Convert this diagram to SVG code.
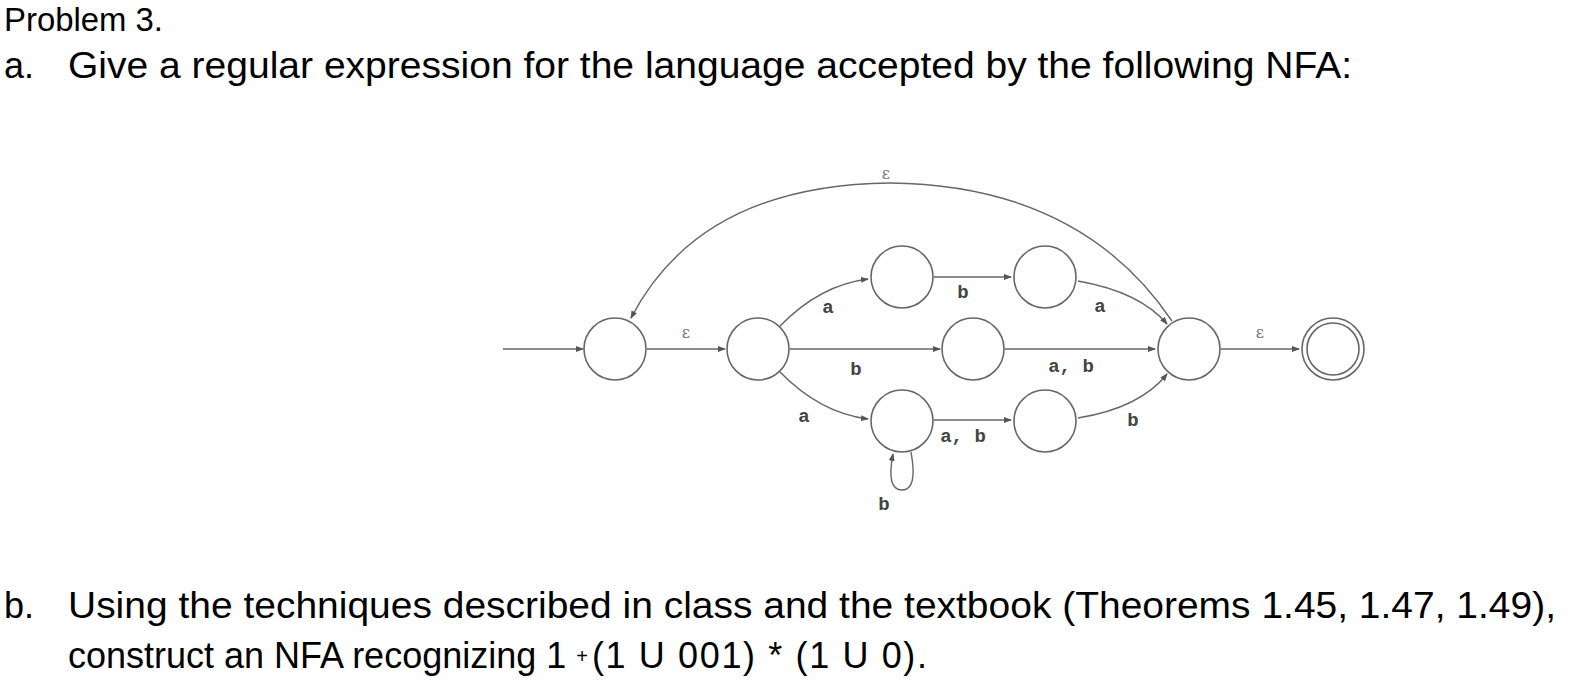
<svg xmlns="http://www.w3.org/2000/svg" width="1582" height="690" viewBox="0 0 1582 690">
<defs>
<marker id="ah" markerWidth="8" markerHeight="6" refX="7" refY="3" orient="auto" markerUnits="userSpaceOnUse"><path d="M0,0 L8,3 L0,6 Z" fill="#555"/></marker>
<style>
.t{font-family:"Liberation Sans",Arial,sans-serif;fill:#000}
.n{fill:#fff;stroke:#666;stroke-width:1.6}
.e{fill:none;stroke:#666;stroke-width:1.4;marker-end:url(#ah)}
.l{font-family:"Liberation Mono","Courier New",monospace;font-size:19px;font-weight:bold;fill:#444;text-anchor:middle}
.eps{font-family:"DejaVu Serif",serif;font-size:16px;fill:#777;text-anchor:middle}
</style>
</defs>
<rect width="1582" height="690" fill="#fff"/>
<text class="t" x="4" y="31" font-size="34" textLength="159" lengthAdjust="spacingAndGlyphs">Problem 3.</text>
<text class="t" x="4" y="78" font-size="36">a.</text>
<text class="t" x="68" y="78" font-size="36" textLength="1284" lengthAdjust="spacingAndGlyphs">Give a regular expression for the language accepted by the following NFA:</text>
<text class="t" x="4" y="618" font-size="36">b.</text>
<text class="t" x="68" y="618" font-size="36" textLength="1488" lengthAdjust="spacingAndGlyphs">Using the techniques described in class and the textbook (Theorems 1.45, 1.47, 1.49),</text>
<text class="t" x="68" y="668" font-size="36">construct an NFA recognizing 1 <tspan font-size="20" dy="-5">+</tspan><tspan dy="5" dx="4" textLength="335" lengthAdjust="spacing">(1 U 001) * (1 U 0).</tspan></text>
<g id="edges">
<path class="e" d="M503,349 L583,349"/>
<path class="e" d="M647,349 L725,349"/>
<path class="e" d="M780,326 Q820,285 868,279"/>
<path class="e" d="M790,349 L940,349"/>
<path class="e" d="M780,372 Q820,413 868,419"/>
<path class="e" d="M934,277 L1011,277"/>
<path class="e" d="M1005,349 L1155,349"/>
<path class="e" d="M934,420 L1011,420"/>
<path class="e" d="M1078,281 Q1140,292 1167,324"/>
<path class="e" d="M1078,418 Q1140,408 1167,374"/>
<path class="e" d="M1221,349 L1299,349"/>
<path class="e" d="M1172,321 Q1080,185 890,183 Q700,185 631,318"/>
<path class="e" d="M911,452 Q918,490 902,490 Q886,490 893,454"/>
</g>
<g id="labels">
<text class="eps" x="886" y="179">ε</text>
<text class="eps" x="686" y="338">ε</text>
<text class="eps" x="1260" y="338">ε</text>
<text class="l" x="828" y="313">a</text>
<text class="l" x="856" y="375">b</text>
<text class="l" x="804" y="422">a</text>
<text class="l" x="963" y="298">b</text>
<text class="l" x="1100" y="312">a</text>
<text class="l" x="1071" y="372">a, b</text>
<text class="l" x="963" y="442">a, b</text>
<text class="l" x="1133" y="426">b</text>
<text class="l" x="884" y="510">b</text>
</g>
<g id="n1"><circle class="n" cx="615" cy="349" r="31"/></g>
<g id="n2"><circle class="n" cx="758" cy="349" r="31"/></g>
<g id="n3"><circle class="n" cx="902" cy="277" r="31"/></g>
<g id="n4"><circle class="n" cx="973" cy="349" r="31"/></g>
<g id="n5"><circle class="n" cx="902" cy="421" r="31"/></g>
<g id="n6"><circle class="n" cx="1045" cy="277" r="31"/></g>
<g id="n7"><circle class="n" cx="1045" cy="421" r="31"/></g>
<g id="n8"><circle class="n" cx="1189" cy="349" r="31"/></g>
<g id="n9"><circle class="n" cx="1333" cy="349" r="31"/><circle class="n" cx="1333" cy="349" r="26" fill="none"/></g>
</svg>
